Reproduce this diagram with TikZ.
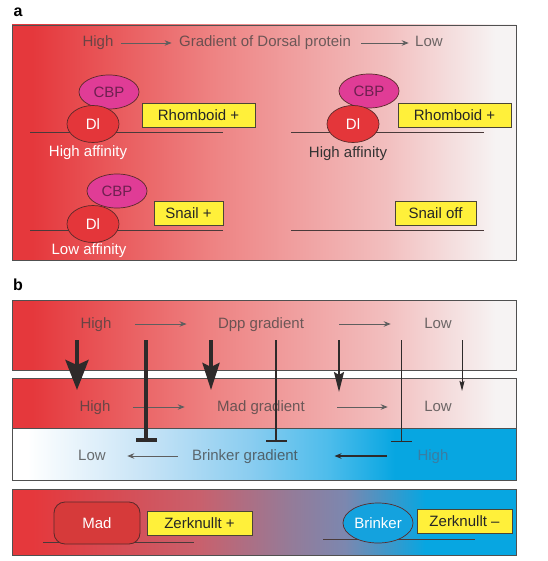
\documentclass[tikz,border=0pt]{standalone}
\usepackage{fontspec}
\setmainfont{Liberation Sans}
\usepackage{xcolor}
\usetikzlibrary{arrows.meta, shapes.geometric}

\definecolor{dorsred}{HTML}{E5383C}
\definecolor{dorspink}{HTML}{EE8383}
\definecolor{dorspale}{HTML}{F2BEBE}
\definecolor{dorswhite}{HTML}{F6F3F3}
\definecolor{brkpale}{HTML}{C6E3F6}
\definecolor{brklight}{HTML}{8BCDF0}
\definecolor{brkmid}{HTML}{4CBCEB}
\definecolor{brkblue}{HTML}{07A6E1}
\definecolor{mixrose}{HTML}{C9606C}
\definecolor{mixmauve}{HTML}{957B98}
\definecolor{mixslate}{HTML}{7C87AF}
\definecolor{framegray}{HTML}{505050}
\definecolor{geneyellow}{HTML}{FFF03A}
\definecolor{boxedge}{HTML}{4A4535}
\definecolor{cbpmag}{HTML}{E03C96}
\definecolor{cbptext}{HTML}{6E2050}
\definecolor{dlred}{HTML}{E4363A}
\definecolor{madred}{HTML}{D63A3A}
\definecolor{brkfill}{HTML}{14A2DE}
\definecolor{protedge}{HTML}{5A2A2A}
\definecolor{dnagray}{HTML}{4A3A3A}
\definecolor{actdark}{HTML}{2E2A2A}
\definecolor{arrowgray}{HTML}{5E5E5E}
\definecolor{brktext}{HTML}{3A7DA2}

\pgfdeclarehorizontalshading{dorsalfade}{100bp}{color(0bp)=(dorsred); color(27bp)=(dorsred); color(45bp)=(dorspink); color(62bp)=(dorspale); color(73bp)=(dorswhite); color(100bp)=(dorswhite)}
\pgfdeclarehorizontalshading{brinkerfade}{100bp}{color(0bp)=(white); color(26.5bp)=(white); color(38.5bp)=(brkpale); color(48.5bp)=(brklight); color(56.5bp)=(brkmid); color(63bp)=(brkblue); color(100bp)=(brkblue)}
\pgfdeclarehorizontalshading{switchfade}{100bp}{color(0bp)=(dorsred); color(27bp)=(dorsred); color(43.5bp)=(mixrose); color(52.5bp)=(mixmauve); color(58bp)=(mixslate); color(66bp)=(brkblue); color(100bp)=(brkblue)}

\tikzset{
  panel/.style={draw=framegray, line width=0.9pt},
  dimtext/.style={text=black!75, text opacity=0.75, text height=11pt, text depth=3pt},
  gradarrow/.style={draw=arrowgray, line width=0.8pt, -{Stealth[length=7pt,width=5.5pt]}},
  genebox/.style={draw=boxedge, fill=geneyellow, line width=0.8pt, minimum height=24pt, inner sep=0pt, text=black!85},
  prot/.style={ellipse, draw=protedge, line width=0.7pt, inner sep=0pt},
  dna/.style={draw=dnagray, line width=0.9pt},
  actbig/.style={draw=actdark, line width=4pt, -{Stealth[length=30pt,width=23pt,inset=5pt]}},
  actmid/.style={draw=actdark, line width=3.5pt, -{Stealth[length=27pt,width=17pt,inset=4pt]}},
  actsmall/.style={draw=actdark, line width=2pt, -{Stealth[length=20pt,width=10pt,inset=3pt]}},
  actthin/.style={draw=actdark, line width=1pt, -{Stealth[length=10pt,width=5pt,inset=1.5pt]}},
  block/.style={draw=actdark, -{Bar[width=21pt]}},
  panellabel/.style={font=\fontsize{16}{18}\selectfont\bfseries}
}

\begin{document}
\begin{tikzpicture}[x=1pt, y=-1pt, font=\fontsize{15}{18}\selectfont]
\fill[white] (0,0) rectangle (547,561);
\useasboundingbox (0,0) rectangle (547,561);

% a
\node[panellabel] (labA) at (18,12) {a};
\shadedraw[panel, shading=dorsalfade] (12,25) rectangle (516,260);

\node[dimtext] (hiA) at (98,43) {High};
\node[dimtext] (gradA) at (265,43) {Gradient of Dorsal protein};
\node[dimtext] (loA) at (429,43) {Low};
\draw[gradarrow, shorten <=4pt, shorten >=4pt] (hiA) -- (gradA);
\draw[gradarrow, shorten <=7pt, shorten >=3pt] (gradA) -- (loA);

\draw[dna] (30,132) -- (223,132);
\node[prot, fill=cbpmag, minimum width=60pt, minimum height=34pt, text=cbptext] (cbpL1) at (109,92) {CBP};
\node[prot, fill=dlred, minimum width=52pt, minimum height=37pt, text=white] (dlL1) at (93,124) {Dl};
\node[genebox, minimum width=113pt] (rhoL) at (198.5,115) {Rhomboid +};
\node[text=white] (hafL) at (88,153) {High affinity};

\draw[dna] (291,132) -- (484,132);
\node[prot, fill=cbpmag, minimum width=60pt, minimum height=34pt, text=cbptext] (cbpR) at (369,91) {CBP};
\node[prot, fill=dlred, minimum width=52pt, minimum height=37pt, text=white] (dlR) at (353,124) {Dl};
\node[genebox, minimum width=113pt] (rhoR) at (454.5,115) {Rhomboid +};
\node[text=black!80] (hafR) at (348,154) {High affinity};

\draw[dna] (30,230) -- (223,230);
\node[prot, fill=cbpmag, minimum width=60pt, minimum height=34pt, text=cbptext] (cbpL2) at (117,191) {CBP};
\node[prot, fill=dlred, minimum width=52pt, minimum height=37pt, text=white] (dlL2) at (93,224) {Dl};
\node[genebox, minimum width=69pt] (snL) at (188.5,213) {Snail +};
\node[text=white] (lafL) at (89,251) {Low affinity};

\draw[dna] (291,230) -- (484,230);
\node[genebox, minimum width=81pt] (snR) at (435.5,213) {Snail off};

% b
\node[panellabel] (labB) at (18,285) {b};
\shadedraw[panel, shading=dorsalfade] (12,300) rectangle (516,370);
\shadedraw[panel, shading=dorsalfade] (12,378) rectangle (516,428);
\shadedraw[panel, shading=brinkerfade] (12,428) rectangle (516,480);

\node[dimtext] (hiD) at (96,324) {High};
\node[dimtext] (gradD) at (261,324) {Dpp gradient};
\node[dimtext] (loD) at (438,324) {Low};
\draw[gradarrow, shorten <=20pt, shorten >=28pt] (hiD) -- (gradD);
\draw[gradarrow, shorten <=32pt, shorten >=30pt] (gradD) -- (loD);

\node[dimtext] (hiM) at (95,407) {High};
\node[dimtext] (gradM) at (261,407) {Mad gradient};
\node[dimtext] (loM) at (438,407) {Low};
\draw[gradarrow, shorten <=19pt, shorten >=29pt] (hiM) -- (gradM);
\draw[gradarrow, shorten <=29pt, shorten >=33pt] (gradM) -- (loM);

\node[dimtext] (loB) at (92,456) {Low};
\node[dimtext] (gradB) at (245,456) {Brinker gradient};
\node[dimtext, text=brktext, text opacity=1] (hiB) at (433,456) {High};
\draw[gradarrow, shorten <=11pt, shorten >=18pt] (gradB) -- (loB);
\draw[gradarrow, draw=actdark, line width=1.3pt, shorten <=27pt, shorten >=33pt] (hiB) -- (gradB);

\coordinate (dpp1) at (77,340);  \coordinate (mad1) at (77,390);
\coordinate (dpp2) at (146,340); \coordinate (brk2) at (146,442);
\coordinate (dpp3) at (211,340); \coordinate (mad3) at (211,390);
\coordinate (dpp4) at (276,340); \coordinate (brk4) at (276,442);
\coordinate (dpp5) at (339,340); \coordinate (mad5) at (339,392);
\coordinate (dpp6) at (401,340); \coordinate (brk6) at (401,442);
\coordinate (dpp7) at (462,340); \coordinate (mad7) at (462,391);

\draw[actbig] (dpp1) -- (mad1);
\draw[block, line width=4pt] (dpp2) -- (brk2);
\draw[actmid] (dpp3) -- (mad3);
\draw[block, line width=1.6pt] (dpp4) -- (brk4);
\draw[actsmall] (dpp5) -- (mad5);
\draw[block, line width=1pt] (dpp6) -- (brk6);
\draw[actthin] (dpp7) -- (mad7);

\shadedraw[panel, shading=switchfade] (12,489) rectangle (516,555);
\draw[dna] (43,542) -- (194,542);
\node[draw=protedge, fill=madred, rounded corners=11pt, line width=0.8pt, minimum width=86pt, minimum height=42pt, text=white] (madN) at (97,523) {Mad};
\node[genebox, minimum width=105pt] (zerkP) at (199.5,523.5) {Zerknullt +};
\draw[dna] (323,539) -- (475,539);
\node[prot, fill=brkfill, minimum width=70pt, minimum height=40pt, text=white] (brkN) at (378,523) {Brinker};
\node[genebox, minimum width=95pt] (zerkM) at (464.5,521.5) {Zerknullt –};
\end{tikzpicture}
\end{document}
